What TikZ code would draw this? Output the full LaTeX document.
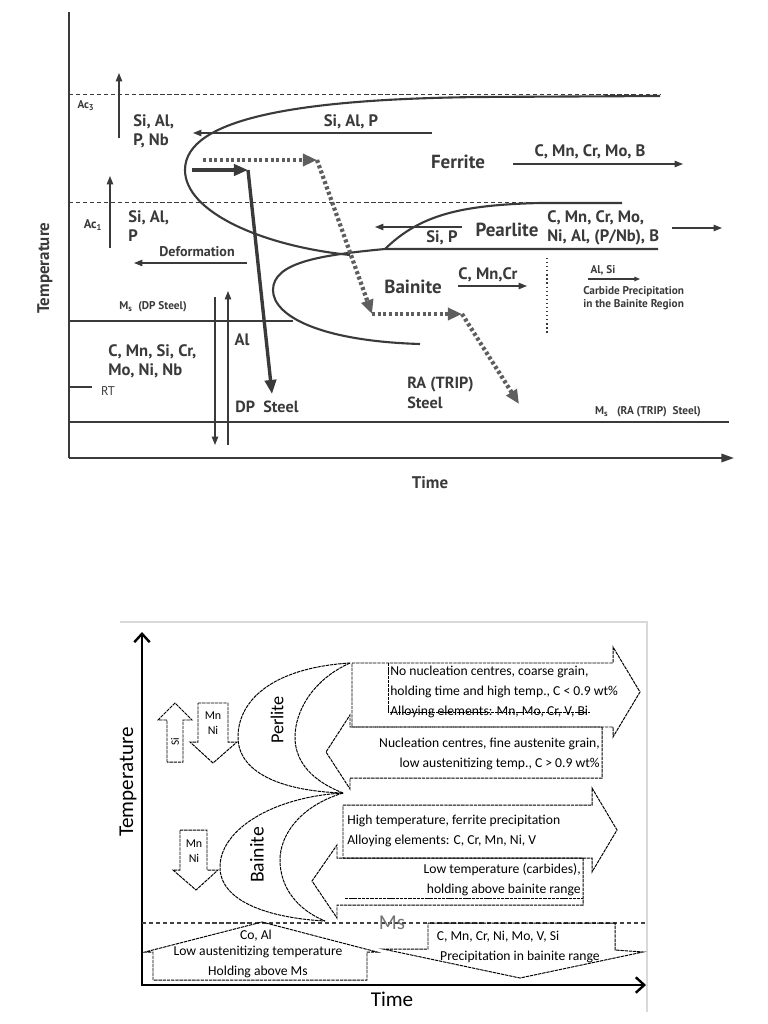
\documentclass[tikz,border=0pt]{standalone}
\usepackage{fontspec}
\setmainfont{PT Sans}
\newfontfamily\calfont{Carlito}
\usetikzlibrary{arrows.meta}
\definecolor{ink}{HTML}{3A3A3A}
\definecolor{dotgray}{HTML}{5E5E5E}
\tikzset{lb/.style = {text=ink, inner sep=0pt, font=\fontsize{11.8}{13.5}\selectfont\bfseries, align=left},
         phase/.style = {text=ink, inner sep=0pt, font=\fontsize{13.5}{15}\selectfont\bfseries, align=left},
         steel/.style = {text=ink, inner sep=0pt, font=\fontsize{11.5}{14}\selectfont\bfseries, align=left},
         sm/.style = {text=ink, inner sep=0pt, font=\fontsize{8}{9.4}\selectfont\bfseries, align=left},
         crv/.style = {draw=ink, line width=1.5pt},
         ln/.style = {draw=ink, line width=0.8pt},
         dsh/.style = {draw=ink, line width=0.7pt, dash pattern=on 3pt off 2pt},
         el/.style = {draw=ink, line width=0.8pt, -{Triangle[length=6pt,width=4.6pt]}},
         dp/.style = {draw=ink, line width=2.4pt, -{Triangle[length=10pt,width=8pt]}},
         trip/.style = {draw=dotgray, line width=3pt, dash pattern=on 2.2pt off 1.8pt, -{Triangle[length=10pt,width=8.5pt]}},
         box/.style = {draw=black, line width=0.7pt, dash pattern=on 2.4pt off 0.6pt},
         bax/.style = {draw=black, line width=1.7pt},
         ct/.style = {inner sep=0pt, font=\calfont\fontsize{9.7}{14}\selectfont}}

\begin{document}
\begin{tikzpicture}[x=0.025cm, y=-0.025cm]
  \useasboundingbox (0,0) rectangle (768,1024);
  % upper diagram
  \coordinate (yt) at (69,12); \coordinate (o) at (69,458); \coordinate (xt) at (734,458);
  \draw[ln, line width=1.3pt] (yt) -- (o);
  \draw[ln, line width=1.3pt, -{Triangle[length=9pt,width=6pt]}] (o) -- (xt);
  \node[phase, rotate=90, font=\fontsize{12}{14}\selectfont\bfseries] (temp) at (45,268) {Temperature};
  \node[phase, font=\fontsize{12}{14}\selectfont\bfseries] (time) at (430,483) {Time};
  \coordinate (ac3a) at (69,94);  \coordinate (ac3b) at (660,94);
  \coordinate (ac1a) at (69,202); \coordinate (ac1b) at (622,202);
  \draw[dsh] (ac3a) -- (ac3b);
  \draw[dsh] (ac1a) -- (ac1b);
  \draw[crv] (660,96) -- (480,97) .. controls (300,99) and (185,118) .. (185,170) .. controls (185,212) and (262,246) .. (350,255);
  \draw[crv] (420,344) .. controls (320,341) and (273,316) .. (273,290) .. controls (273,262) and (322,255) .. (385,249) -- (658,249);
  \draw[crv] (385,249) .. controls (420,215) and (460,205) .. (540,203) -- (622,203);
  \coordinate (msdp) at (69,321); \coordinate (msdpe) at (293,321);
  \draw[ln] (msdp) -- (msdpe);
  \coordinate (msra) at (69,422); \coordinate (msrae) at (729,422);
  \draw[ln] (msra) -- (msrae);
  \coordinate (rt) at (69,387); \coordinate (rte) at (92,387);
  \draw[ln] (rt) -- (rte);

  \coordinate (u1a) at (119,138); \coordinate (u1b) at (119,73);
  \draw[el] (u1a) -- (u1b);
  \coordinate (u2a) at (110,248); \coordinate (u2b) at (110,176);
  \draw[el] (u2a) -- (u2b);
  \coordinate (sa1) at (432,133); \coordinate (sa2) at (193,133);
  \draw[el] (sa1) -- (sa2);
  \coordinate (fe1) at (513,164); \coordinate (fe2) at (683,164);
  \draw[el] (fe1) -- (fe2);
  \coordinate (df1) at (247,263); \coordinate (df2) at (134,263);
  \draw[el] (df1) -- (df2);
  \coordinate (sp1) at (462,227); \coordinate (sp2) at (375,227);
  \draw[el] (sp1) -- (sp2);
  \coordinate (pe1) at (672,228); \coordinate (pe2) at (722,228);
  \draw[el] (pe1) -- (pe2);
  \coordinate (bn1) at (458,286); \coordinate (bn2) at (527,286);
  \draw[el] (bn1) -- (bn2);
  \coordinate (as1) at (588,279); \coordinate (as2) at (640,279);
  \draw[el, -{Triangle[length=4pt,width=3.2pt]}] (as1) -- (as2);
  \coordinate (dn1) at (215,297); \coordinate (dn2) at (215,445);
  \draw[el] (dn1) -- (dn2);
  \coordinate (up1) at (228,445); \coordinate (up2) at (228,291);
  \draw[el] (up1) -- (up2);
  \coordinate (dv1) at (547,258); \coordinate (dv2) at (547,335);
  \draw[ink, line width=0.9pt, dotted] (dv1) -- (dv2);

  % cooling paths
  \coordinate (dp0) at (192,170); \coordinate (dp1) at (248,170); \coordinate (dp2) at (272,394);
  \draw[dp] (dp0) -- (dp1);
  \draw[dp] (dp1) -- (dp2);
  \coordinate (tr0) at (203,160); \coordinate (tr1) at (317,160);
  \coordinate (tr2) at (372,314); \coordinate (tr3) at (462,314); \coordinate (tr4) at (519,404);
  \draw[trip] (tr0) -- (tr1);
  \draw[trip] (tr1) -- (tr2);
  \draw[trip] (tr2) -- (tr3);
  \draw[trip] (tr3) -- (tr4);

  \node[sm] (lac3) at (86,106) {Ac\textsubscript{3}};
  \node[sm, font=\fontsize{9}{10}\selectfont\bfseries] (lac1) at (93,225) {Ac\textsubscript{1}};
  \node[lb, anchor=west] (l1) at (133,131) {Si, Al,\\P, Nb};
  \node[lb] (l2) at (351,122) {Si, Al, P};
  \node[phase] (ferrite) at (458,162) {Ferrite};
  \node[lb] (l3) at (590,152) {C, Mn, Cr, Mo, B};
  \node[lb, anchor=west] (l4) at (128,226) {Si, Al,\\P};
  \node[lb, font=\fontsize{10}{12}\selectfont\bfseries] (deform) at (197,252) {Deformation};
  \node[lb] (l5) at (442,238) {Si, P};
  \node[phase] (pearlite) at (507,230) {Pearlite};
  \node[lb, anchor=west] (l6) at (547,228) {C, Mn, Cr, Mo,\\Ni, Al, (P/Nb), B};
  \node[phase] (bainite) at (413,287) {Bainite};
  \node[lb] (l7) at (488,275) {C, Mn,Cr};
  \node[sm] (l8) at (603,270) {Al, Si};
  \node[sm, anchor=west] (carb) at (583,298) {Carbide Precipitation\\in the Bainite Region};
  \node[sm] (msdpl) at (153,307) {M\textsubscript{s}~~(DP Steel)};
  \node[lb] (lal) at (242,340) {Al};
  \node[lb, anchor=west] (l9) at (108,361) {C, Mn, Si, Cr,\\Mo, Ni, Nb};
  \node[sm, font=\fontsize{9}{10}\selectfont] (lrt) at (108,391) {RT};
  \node[steel] (dpst) at (267,407) {DP~~Steel};
  \node[steel, anchor=west] (trips) at (407,393) {RA (TRIP)\\Steel};
  \node[sm] (msral) at (648,412) {M\textsubscript{s}~~~(RA (TRIP)~~Steel)};

  % lower diagram
  \draw[black!15, line width=0.8pt] (120,622) -- (647,622) -- (647,1012);
  \coordinate (bt) at (142,632); \coordinate (bo) at (142,985); \coordinate (bx) at (646,985);
  \draw[bax, {Straight Barb[length=6pt,width=11pt]}-{Straight Barb[length=6pt,width=11pt]}] (bt) -- (bo) -- (bx);
  \node[ct, font=\calfont\fontsize{15}{17}\selectfont, rotate=90] (btemp) at (128,782) {Temperature};
  \node[ct, font=\calfont\fontsize{15}{17}\selectfont] (btime) at (392,999) {Time};
  \coordinate (msa) at (142,923); \coordinate (msb) at (645,923);
  \draw[black!75, line width=1.4pt, dash pattern=on 3pt off 2pt] (msa) -- (msb);

  \draw[box] (167,762) -- (167,720) -- (158,720) -- (175,703) -- (192,720) -- (183,720) -- (183,762) -- cycle;
  \node[ct, rotate=90, font=\calfont\fontsize{8}{9}\selectfont] (si) at (175,742) {Si};
  \draw[box] (198,703) -- (228,703) -- (228,742) -- (237,742) -- (213,763) -- (190,742) -- (198,742) -- cycle;
  \node[ct, align=center, font=\calfont\fontsize{8.5}{11}\selectfont] (mn1) at (213,723) {Mn\\Ni};
  \draw[box] (180,830) -- (207,830) -- (207,870) -- (218,870) -- (196,890) -- (173,870) -- (180,870) -- cycle;
  \node[ct, align=center, font=\calfont\fontsize{8.5}{11}\selectfont] (mn2) at (194,851) {Mn\\Ni};

  \draw[box] (350,663) .. controls (270,668) and (238,702) .. (238,737) .. controls (238,772) and (280,791) .. (343,793);
  \draw[box] (350,663) .. controls (312,680) and (295,712) .. (295,737) .. controls (295,764) and (315,782) .. (343,793);
  \node[ct, rotate=90, font=\calfont\fontsize{13}{15}\selectfont] (perlite) at (277,720) {Perlite};
  \draw[box] (343,793) .. controls (272,797) and (220,830) .. (220,867) .. controls (220,902) and (270,918) .. (325,921);
  \draw[box] (343,793) .. controls (300,806) and (280,835) .. (280,860) .. controls (280,888) and (298,910) .. (325,921);
  \node[ct, rotate=90, font=\calfont\fontsize{14}{16}\selectfont] (bain) at (257,855) {Bainite};

  \draw[box] (352,663) -- (613,663) -- (613,647) -- (640,692) -- (613,737) -- (613,727) -- (352,727) -- cycle;
  \draw[box] (388,663) -- (388,712) -- (590,712);
  \draw[box] (602,727) -- (602,778) -- (350,778) -- (350,789) -- (326,752) -- (350,715) -- (350,727) -- cycle;
  \node[ct, anchor=west, align=left] (t1) at (390,692) {No nucleation centres, coarse grain,\\holding time and high temp., C < 0.9 wt\%\\Alloying elements: Mn, Mo, Cr, V, Bi};
  \node[ct, anchor=east, align=right] (t2) at (600,754) {Nucleation centres, fine austenite grain,\\low austenitizing temp., C > 0.9 wt\%};

  \draw[box] (343,805) -- (592,805) -- (592,788) -- (617,830) -- (592,872) -- (592,858) -- (343,858) -- cycle;
  \draw[box] (583,858) -- (583,905) -- (337,905) -- (337,918) -- (312,881) -- (337,845) -- (337,858) -- cycle;
  \draw[box] (345,898) -- (583,898);
  \node[ct, anchor=west, align=left] (t3) at (347,831) {High temperature, ferrite precipitation\\Alloying elements: C, Cr, Mn, Ni, V};
  \node[ct, anchor=east, align=right] (t4) at (581,880) {Low temperature (carbides),\\holding above bainite range};

  \draw[box] (153,980) -- (153,952) -- (145,952) -- (262,922) -- (377,952) -- (367,952) -- (367,980) -- cycle;
  \node[ct] (coal) at (256,936) {Co, Al};
  \node[ct, align=center] (t5) at (258,962) {Low austenitizing temperature\\Holding above Ms};
  \draw[box] (428,923) -- (615,923) -- (615,950) -- (643,952) -- (520,978) -- (383,949) -- (428,949) -- cycle;
  \node[ct] (t6) at (498,937) {C, Mn, Cr, Ni, Mo, V, Si};
  \node[ct] (t7) at (520,957) {Precipitation in bainite range};
  \node[ct, text=black!55, font=\calfont\fontsize{15}{17}\selectfont] (ms) at (392,923) {Ms};
\end{tikzpicture}
\end{document}
